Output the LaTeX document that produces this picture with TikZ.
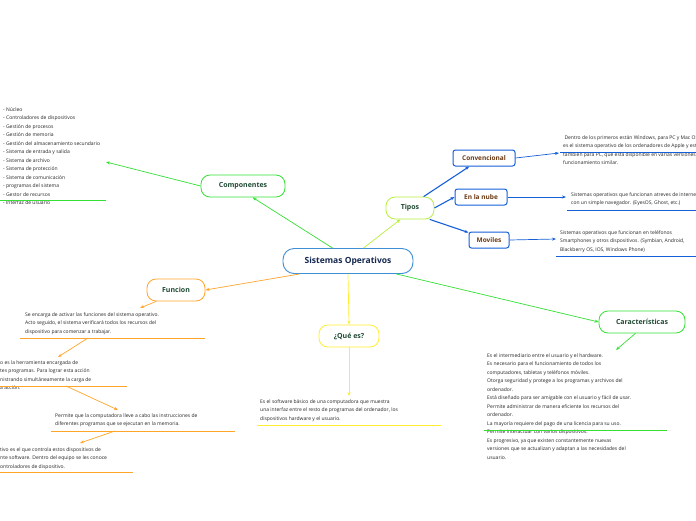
\documentclass[tikz,border=0pt]{standalone}
\usepackage{fontspec}
\setmainfont{Open Sans}
\usetikzlibrary{arrows.meta}
\definecolor{cblue}{HTML}{3F8FD6}
\definecolor{cdblue}{HTML}{1560D8}
\definecolor{cgreen}{HTML}{33E033}
\definecolor{clime}{HTML}{B8F03C}
\definecolor{corange}{HTML}{FFA52A}
\definecolor{cyellow}{HTML}{FFEE30}
\definecolor{cnavy}{HTML}{142850}
\definecolor{cdgreen}{HTML}{1E4A32}
\definecolor{cbrown}{HTML}{6B3A14}
\tikzset{
 topic/.style={draw, rounded corners=9pt, line width=0.8pt, fill=white, text=cdgreen, font=\fontsize{7}{8}\selectfont\bfseries, inner sep=0pt},
 sub/.style={draw=cdblue, rounded corners=2.5pt, line width=1pt, fill=white, text=cbrown, font=\fontsize{6.5}{8}\selectfont\bfseries, inner sep=0pt},
 txt/.style={anchor=north west, align=left, inner sep=0pt, text=black!85, font=\fontsize{5}{8.5}\selectfont},
 conn/.style={line width=0.7pt, -{Stealth[length=4pt,width=3pt]}},
 uline/.style={line width=0.9pt}
}
\begin{document}
\begin{tikzpicture}[x=1pt,y=-1pt]
\clip (0,0) rectangle (696,520);
\fill[white] (0,0) rectangle (696,520);
% main
\node[draw=cblue, rounded corners=11pt, line width=0.9pt, fill=white, text=cnavy, font=\fontsize{8.5}{10}\selectfont\bfseries, minimum width=130pt, minimum height=25pt, inner sep=0pt] (so) at (348,261) {Sistemas Operativos};
\node[topic, draw=cgreen, minimum width=84pt, minimum height=22pt] (comp) at (243,186) {Componentes};
\node[topic, draw=clime, minimum width=48pt, minimum height=22pt] (tipos) at (410,208) {Tipos};
\node[topic, draw=corange, minimum width=58pt, minimum height=22pt] (func) at (176,290) {Funcion};
\node[topic, draw=cyellow, minimum width=60pt, minimum height=22pt] (que) at (349,336) {¿Qué es?};
\node[topic, draw=cgreen, minimum width=86pt, minimum height=22pt] (car) at (642,322) {Características};
\node[sub, minimum width=62pt, minimum height=16pt] (conv) at (484,158) {Convencional};
\node[sub, minimum width=52pt, minimum height=16pt] (nube) at (481,197) {En la nube};
\node[sub, minimum width=40pt, minimum height=16pt] (mov) at (489,240) {Moviles};

% texts
\node[txt] (tcomp) at (3,107) {- Núcleo\\- Controladores de dispositivos\\- Gestión de procesos\\- Gestión de memoria\\- Gestión del almacenamiento secundario\\- Sistema de entrada y salida\\- Sistema de archivo\\- Sistema de protección\\- Sistema de comunicación\\- programas del sistema\\- Gestor de recursos\\- Interfaz de usuario};
\draw[cgreen, uline] (0,200) -- (106,200);
\coordinate (acomp) at (106,162);

\node[txt] (tf1) at (25,312) {Se encarga de activar las funciones del sistema operativo.\\Acto seguido, el sistema verificará todos los recursos del\\dispositivo para comenzar a trabajar.};
\draw[corange, uline] (20,338) -- (205,338);
\node[txt] (tf2) at (0,360) {o es la herramienta encargada de\\tes programas. Para lograr esta acción\\nistrando simultáneamente la carga de\\a acción.};
\draw[corange, uline] (0,386) -- (127,386);
\node[txt] (tf3) at (55,413) {Permite que la computadora lleve a cabo las instrucciones de\\diferentes programas que se ejecutan en la memoria.};
\draw[corange, uline] (51,431) -- (235,431);
\node[txt] (tf4) at (0,447) {tivo es el que controla estos dispositivos de\\nte software. Dentro del equipo se les conoce\\ontroladores de dispositivo.};
\draw[corange, uline] (0,472) -- (133,472);

\node[txt] (tq) at (260,399) {Es el software básico de una computadora que muestra\\una interfaz entre el resto de programas del ordenador, los\\dispositivos hardware y el usuario.};
\draw[cyellow, uline] (257,425) -- (441,425);

\node[txt] (tconv) at (563,135) {\ Dentro de los primeros están Windows, para PC y Mac OS, que\\es el sistema operativo de los ordenadores de Apple y está disponible\\también para PC, que está disponible en varias versiones con\\funcionamiento similar.};
\draw[cdblue, uline] (560,152) -- (696,152);
\node[txt] (tnube) at (571,192) {Sistemas operativos que funcionan atreves de internet\\con un simple navegador. (EyesOS, Ghost, etc.)};
\draw[cdblue, uline] (567,210) -- (696,210);
\node[txt] (tmov) at (560,230) {Sistemas operativos que funcionan en teléfonos\\Smartphones y otros dispositivos. (Symbian, Android,\\Blackberry OS, IOS, Windows Phone)};
\draw[cdblue, uline] (556,256) -- (696,256);

\node[txt] (tcar) at (487,353) {Es el intermediario entre el usuario y el hardware.\\Es necesario para el funcionamiento de todos los\\computadores, tabletas y teléfonos móviles.\\Otorga seguridad y protege a los programas y archivos del\\ordenador.\\Está diseñado para ser amigable con el usuario y fácil de usar.\\Permite administrar de manera eficiente los recursos del\\ordenador.\\La mayoría requiere del pago de una licencia para su uso.\\Permite interactuar con varios dispositivos.\\Es progresivo, ya que existen constantemente nuevas\\versiones que se actualizan y adaptan a las necesidades del\\usuario.};
\draw[cgreen, uline] (484,430) -- (667,430);

% connectors
\draw[conn, cgreen] (so.140) -- (comp.-50);
\draw[conn, clime] (so.40) -- (tipos.-130);
\draw[conn, corange] (so.195) -- (func.east);
\draw[conn, cyellow] (so.south) -- (que.north);
\draw[conn, cgreen] (so.-15) -- (car.west);
\draw[conn, cgreen] (comp.west) -- (acomp);
\draw[conn, line width=1.1pt, cdblue] (tipos.40) -- (conv.-150);
\draw[conn, line width=1.1pt, cdblue] (tipos.east) -- (nube.west);
\draw[conn, line width=1.1pt, cdblue] (tipos.-30) -- (mov.160);
\draw[conn, cdblue] (conv.east) -- (559,153);
\draw[conn, cdblue] (nube.east) -- (566,197);
\draw[conn, cdblue] (mov.east) -- (556,239);
\draw[conn, cyellow] (que.south) -- (349,396);
\draw[conn, cgreen] (car.-120) -- (616,350);
\draw[conn, corange] (func.-150) -- (140,308);
\draw[conn, corange] (88,338) -- (58,357);
\draw[conn, corange] (66,386) -- (118,410);
\draw[conn, corange] (115,431) -- (80,443);
\end{tikzpicture}
\end{document}
